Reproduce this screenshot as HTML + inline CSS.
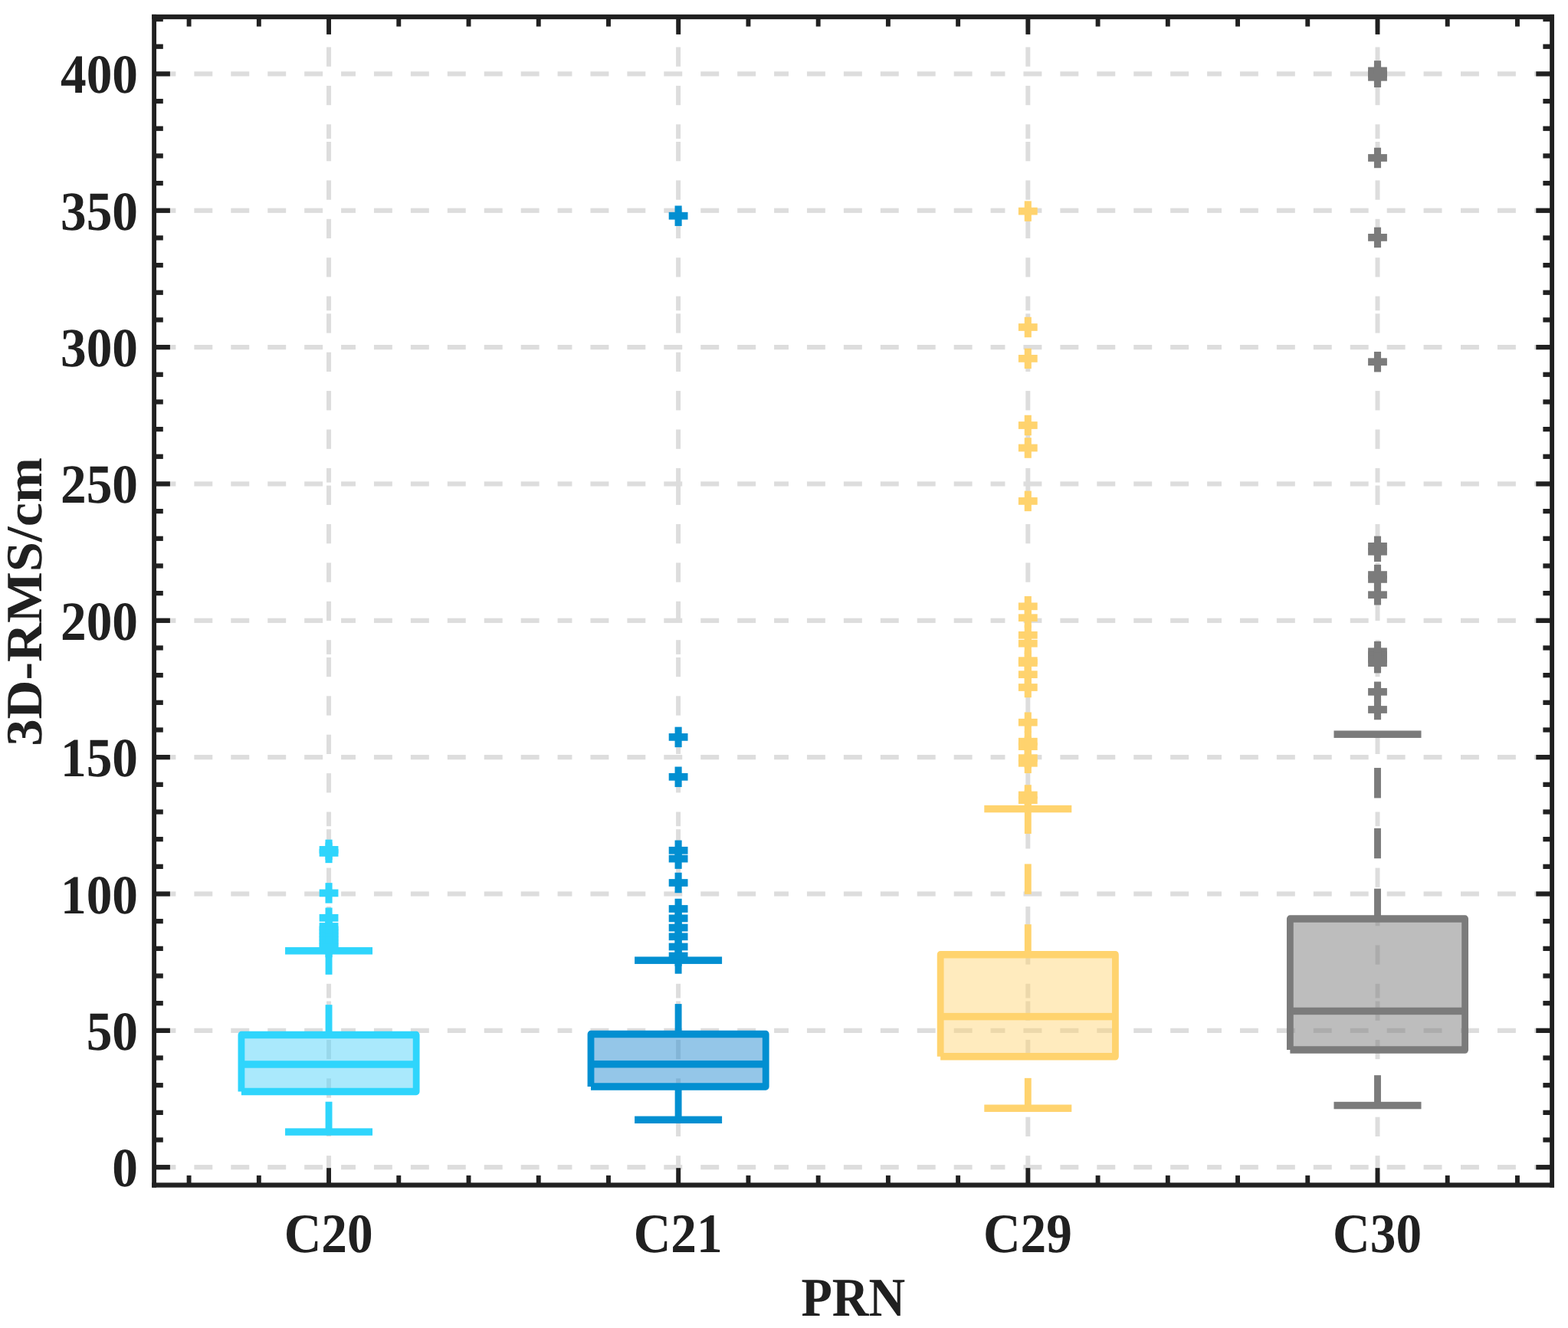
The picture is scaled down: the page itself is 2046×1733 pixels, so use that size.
<!DOCTYPE html>
<html lang="en">
<head>
<meta charset="utf-8">
<title>3D-RMS box plot by PRN</title>
<style>
html,body{margin:0;padding:0;background:#ffffff;}
body{width:2046px;height:1733px;overflow:hidden;}
svg{display:block;}
text{font-kerning:none;}
</style>
</head>
<body>
<svg width="2046" height="1733" viewBox="0 0 2046 1733" text-rendering="geometricPrecision">
<rect x="0" y="0" width="2046" height="1733" fill="#ffffff"/>
<g fill="#dddddd">
<rect x="205.45" y="1520.1" width="23.93" height="6.2" fill="#dddddd"/>
<rect x="253.38" y="1520.1" width="23.93" height="6.2" fill="#dddddd"/>
<rect x="301.31" y="1520.1" width="23.93" height="6.2" fill="#dddddd"/>
<rect x="349.24" y="1520.1" width="23.93" height="6.2" fill="#dddddd"/>
<rect x="397.17" y="1520.1" width="23.93" height="6.2" fill="#dddddd"/>
<rect x="445.1" y="1520.1" width="18.85" height="6.2" fill="#dddddd"/>
<rect x="487.95" y="1520.1" width="23.93" height="6.2" fill="#dddddd"/>
<rect x="535.88" y="1520.1" width="23.93" height="6.2" fill="#dddddd"/>
<rect x="583.81" y="1520.1" width="23.93" height="6.2" fill="#dddddd"/>
<rect x="631.74" y="1520.1" width="23.93" height="6.2" fill="#dddddd"/>
<rect x="679.67" y="1520.1" width="23.93" height="6.2" fill="#dddddd"/>
<rect x="727.6" y="1520.1" width="18.85" height="6.2" fill="#dddddd"/>
<rect x="770.45" y="1520.1" width="23.93" height="6.2" fill="#dddddd"/>
<rect x="818.38" y="1520.1" width="23.93" height="6.2" fill="#dddddd"/>
<rect x="866.31" y="1520.1" width="23.93" height="6.2" fill="#dddddd"/>
<rect x="914.24" y="1520.1" width="23.93" height="6.2" fill="#dddddd"/>
<rect x="962.17" y="1520.1" width="23.93" height="6.2" fill="#dddddd"/>
<rect x="1010.1" y="1520.1" width="18.85" height="6.2" fill="#dddddd"/>
<rect x="1052.95" y="1520.1" width="23.93" height="6.2" fill="#dddddd"/>
<rect x="1100.88" y="1520.1" width="23.93" height="6.2" fill="#dddddd"/>
<rect x="1148.81" y="1520.1" width="23.93" height="6.2" fill="#dddddd"/>
<rect x="1196.74" y="1520.1" width="23.93" height="6.2" fill="#dddddd"/>
<rect x="1244.67" y="1520.1" width="23.93" height="6.2" fill="#dddddd"/>
<rect x="1292.6" y="1520.1" width="18.85" height="6.2" fill="#dddddd"/>
<rect x="1335.45" y="1520.1" width="23.93" height="6.2" fill="#dddddd"/>
<rect x="1383.38" y="1520.1" width="23.93" height="6.2" fill="#dddddd"/>
<rect x="1431.31" y="1520.1" width="23.93" height="6.2" fill="#dddddd"/>
<rect x="1479.24" y="1520.1" width="23.93" height="6.2" fill="#dddddd"/>
<rect x="1527.17" y="1520.1" width="23.93" height="6.2" fill="#dddddd"/>
<rect x="1575.1" y="1520.1" width="18.85" height="6.2" fill="#dddddd"/>
<rect x="1617.95" y="1520.1" width="23.93" height="6.2" fill="#dddddd"/>
<rect x="1665.88" y="1520.1" width="23.93" height="6.2" fill="#dddddd"/>
<rect x="1713.81" y="1520.1" width="23.93" height="6.2" fill="#dddddd"/>
<rect x="1761.74" y="1520.1" width="23.93" height="6.2" fill="#dddddd"/>
<rect x="1809.67" y="1520.1" width="23.93" height="6.2" fill="#dddddd"/>
<rect x="1857.6" y="1520.1" width="23.93" height="6.2" fill="#dddddd"/>
<rect x="1906" y="1520.1" width="23.93" height="6.2" fill="#dddddd"/>
<rect x="1953.93" y="1520.1" width="23.93" height="6.2" fill="#dddddd"/>
<rect x="2001.86" y="1520.1" width="23.24" height="6.2" fill="#dddddd"/>
<rect x="205.45" y="1341.75" width="23.93" height="6.2" fill="#dddddd"/>
<rect x="253.38" y="1341.75" width="23.93" height="6.2" fill="#dddddd"/>
<rect x="301.31" y="1341.75" width="23.93" height="6.2" fill="#dddddd"/>
<rect x="349.24" y="1341.75" width="23.93" height="6.2" fill="#dddddd"/>
<rect x="397.17" y="1341.75" width="23.93" height="6.2" fill="#dddddd"/>
<rect x="445.1" y="1341.75" width="18.85" height="6.2" fill="#dddddd"/>
<rect x="487.95" y="1341.75" width="23.93" height="6.2" fill="#dddddd"/>
<rect x="535.88" y="1341.75" width="23.93" height="6.2" fill="#dddddd"/>
<rect x="583.81" y="1341.75" width="23.93" height="6.2" fill="#dddddd"/>
<rect x="631.74" y="1341.75" width="23.93" height="6.2" fill="#dddddd"/>
<rect x="679.67" y="1341.75" width="23.93" height="6.2" fill="#dddddd"/>
<rect x="727.6" y="1341.75" width="18.85" height="6.2" fill="#dddddd"/>
<rect x="770.45" y="1341.75" width="23.93" height="6.2" fill="#dddddd"/>
<rect x="818.38" y="1341.75" width="23.93" height="6.2" fill="#dddddd"/>
<rect x="866.31" y="1341.75" width="23.93" height="6.2" fill="#dddddd"/>
<rect x="914.24" y="1341.75" width="23.93" height="6.2" fill="#dddddd"/>
<rect x="962.17" y="1341.75" width="23.93" height="6.2" fill="#dddddd"/>
<rect x="1010.1" y="1341.75" width="18.85" height="6.2" fill="#dddddd"/>
<rect x="1052.95" y="1341.75" width="23.93" height="6.2" fill="#dddddd"/>
<rect x="1100.88" y="1341.75" width="23.93" height="6.2" fill="#dddddd"/>
<rect x="1148.81" y="1341.75" width="23.93" height="6.2" fill="#dddddd"/>
<rect x="1196.74" y="1341.75" width="23.93" height="6.2" fill="#dddddd"/>
<rect x="1244.67" y="1341.75" width="23.93" height="6.2" fill="#dddddd"/>
<rect x="1292.6" y="1341.75" width="18.85" height="6.2" fill="#dddddd"/>
<rect x="1335.45" y="1341.75" width="23.93" height="6.2" fill="#dddddd"/>
<rect x="1383.38" y="1341.75" width="23.93" height="6.2" fill="#dddddd"/>
<rect x="1431.31" y="1341.75" width="23.93" height="6.2" fill="#dddddd"/>
<rect x="1479.24" y="1341.75" width="23.93" height="6.2" fill="#dddddd"/>
<rect x="1527.17" y="1341.75" width="23.93" height="6.2" fill="#dddddd"/>
<rect x="1575.1" y="1341.75" width="18.85" height="6.2" fill="#dddddd"/>
<rect x="1617.95" y="1341.75" width="23.93" height="6.2" fill="#dddddd"/>
<rect x="1665.88" y="1341.75" width="23.93" height="6.2" fill="#dddddd"/>
<rect x="1713.81" y="1341.75" width="23.93" height="6.2" fill="#dddddd"/>
<rect x="1761.74" y="1341.75" width="23.93" height="6.2" fill="#dddddd"/>
<rect x="1809.67" y="1341.75" width="23.93" height="6.2" fill="#dddddd"/>
<rect x="1857.6" y="1341.75" width="23.93" height="6.2" fill="#dddddd"/>
<rect x="1906" y="1341.75" width="23.93" height="6.2" fill="#dddddd"/>
<rect x="1953.93" y="1341.75" width="23.93" height="6.2" fill="#dddddd"/>
<rect x="2001.86" y="1341.75" width="23.24" height="6.2" fill="#dddddd"/>
<rect x="205.45" y="1163.4" width="23.93" height="6.2" fill="#dddddd"/>
<rect x="253.38" y="1163.4" width="23.93" height="6.2" fill="#dddddd"/>
<rect x="301.31" y="1163.4" width="23.93" height="6.2" fill="#dddddd"/>
<rect x="349.24" y="1163.4" width="23.93" height="6.2" fill="#dddddd"/>
<rect x="397.17" y="1163.4" width="23.93" height="6.2" fill="#dddddd"/>
<rect x="445.1" y="1163.4" width="18.85" height="6.2" fill="#dddddd"/>
<rect x="487.95" y="1163.4" width="23.93" height="6.2" fill="#dddddd"/>
<rect x="535.88" y="1163.4" width="23.93" height="6.2" fill="#dddddd"/>
<rect x="583.81" y="1163.4" width="23.93" height="6.2" fill="#dddddd"/>
<rect x="631.74" y="1163.4" width="23.93" height="6.2" fill="#dddddd"/>
<rect x="679.67" y="1163.4" width="23.93" height="6.2" fill="#dddddd"/>
<rect x="727.6" y="1163.4" width="18.85" height="6.2" fill="#dddddd"/>
<rect x="770.45" y="1163.4" width="23.93" height="6.2" fill="#dddddd"/>
<rect x="818.38" y="1163.4" width="23.93" height="6.2" fill="#dddddd"/>
<rect x="866.31" y="1163.4" width="23.93" height="6.2" fill="#dddddd"/>
<rect x="914.24" y="1163.4" width="23.93" height="6.2" fill="#dddddd"/>
<rect x="962.17" y="1163.4" width="23.93" height="6.2" fill="#dddddd"/>
<rect x="1010.1" y="1163.4" width="18.85" height="6.2" fill="#dddddd"/>
<rect x="1052.95" y="1163.4" width="23.93" height="6.2" fill="#dddddd"/>
<rect x="1100.88" y="1163.4" width="23.93" height="6.2" fill="#dddddd"/>
<rect x="1148.81" y="1163.4" width="23.93" height="6.2" fill="#dddddd"/>
<rect x="1196.74" y="1163.4" width="23.93" height="6.2" fill="#dddddd"/>
<rect x="1244.67" y="1163.4" width="23.93" height="6.2" fill="#dddddd"/>
<rect x="1292.6" y="1163.4" width="18.85" height="6.2" fill="#dddddd"/>
<rect x="1335.45" y="1163.4" width="23.93" height="6.2" fill="#dddddd"/>
<rect x="1383.38" y="1163.4" width="23.93" height="6.2" fill="#dddddd"/>
<rect x="1431.31" y="1163.4" width="23.93" height="6.2" fill="#dddddd"/>
<rect x="1479.24" y="1163.4" width="23.93" height="6.2" fill="#dddddd"/>
<rect x="1527.17" y="1163.4" width="23.93" height="6.2" fill="#dddddd"/>
<rect x="1575.1" y="1163.4" width="18.85" height="6.2" fill="#dddddd"/>
<rect x="1617.95" y="1163.4" width="23.93" height="6.2" fill="#dddddd"/>
<rect x="1665.88" y="1163.4" width="23.93" height="6.2" fill="#dddddd"/>
<rect x="1713.81" y="1163.4" width="23.93" height="6.2" fill="#dddddd"/>
<rect x="1761.74" y="1163.4" width="23.93" height="6.2" fill="#dddddd"/>
<rect x="1809.67" y="1163.4" width="23.93" height="6.2" fill="#dddddd"/>
<rect x="1857.6" y="1163.4" width="23.93" height="6.2" fill="#dddddd"/>
<rect x="1906" y="1163.4" width="23.93" height="6.2" fill="#dddddd"/>
<rect x="1953.93" y="1163.4" width="23.93" height="6.2" fill="#dddddd"/>
<rect x="2001.86" y="1163.4" width="23.24" height="6.2" fill="#dddddd"/>
<rect x="205.45" y="985.05" width="23.93" height="6.2" fill="#dddddd"/>
<rect x="253.38" y="985.05" width="23.93" height="6.2" fill="#dddddd"/>
<rect x="301.31" y="985.05" width="23.93" height="6.2" fill="#dddddd"/>
<rect x="349.24" y="985.05" width="23.93" height="6.2" fill="#dddddd"/>
<rect x="397.17" y="985.05" width="23.93" height="6.2" fill="#dddddd"/>
<rect x="445.1" y="985.05" width="18.85" height="6.2" fill="#dddddd"/>
<rect x="487.95" y="985.05" width="23.93" height="6.2" fill="#dddddd"/>
<rect x="535.88" y="985.05" width="23.93" height="6.2" fill="#dddddd"/>
<rect x="583.81" y="985.05" width="23.93" height="6.2" fill="#dddddd"/>
<rect x="631.74" y="985.05" width="23.93" height="6.2" fill="#dddddd"/>
<rect x="679.67" y="985.05" width="23.93" height="6.2" fill="#dddddd"/>
<rect x="727.6" y="985.05" width="18.85" height="6.2" fill="#dddddd"/>
<rect x="770.45" y="985.05" width="23.93" height="6.2" fill="#dddddd"/>
<rect x="818.38" y="985.05" width="23.93" height="6.2" fill="#dddddd"/>
<rect x="866.31" y="985.05" width="23.93" height="6.2" fill="#dddddd"/>
<rect x="914.24" y="985.05" width="23.93" height="6.2" fill="#dddddd"/>
<rect x="962.17" y="985.05" width="23.93" height="6.2" fill="#dddddd"/>
<rect x="1010.1" y="985.05" width="18.85" height="6.2" fill="#dddddd"/>
<rect x="1052.95" y="985.05" width="23.93" height="6.2" fill="#dddddd"/>
<rect x="1100.88" y="985.05" width="23.93" height="6.2" fill="#dddddd"/>
<rect x="1148.81" y="985.05" width="23.93" height="6.2" fill="#dddddd"/>
<rect x="1196.74" y="985.05" width="23.93" height="6.2" fill="#dddddd"/>
<rect x="1244.67" y="985.05" width="23.93" height="6.2" fill="#dddddd"/>
<rect x="1292.6" y="985.05" width="18.85" height="6.2" fill="#dddddd"/>
<rect x="1335.45" y="985.05" width="23.93" height="6.2" fill="#dddddd"/>
<rect x="1383.38" y="985.05" width="23.93" height="6.2" fill="#dddddd"/>
<rect x="1431.31" y="985.05" width="23.93" height="6.2" fill="#dddddd"/>
<rect x="1479.24" y="985.05" width="23.93" height="6.2" fill="#dddddd"/>
<rect x="1527.17" y="985.05" width="23.93" height="6.2" fill="#dddddd"/>
<rect x="1575.1" y="985.05" width="18.85" height="6.2" fill="#dddddd"/>
<rect x="1617.95" y="985.05" width="23.93" height="6.2" fill="#dddddd"/>
<rect x="1665.88" y="985.05" width="23.93" height="6.2" fill="#dddddd"/>
<rect x="1713.81" y="985.05" width="23.93" height="6.2" fill="#dddddd"/>
<rect x="1761.74" y="985.05" width="23.93" height="6.2" fill="#dddddd"/>
<rect x="1809.67" y="985.05" width="23.93" height="6.2" fill="#dddddd"/>
<rect x="1857.6" y="985.05" width="23.93" height="6.2" fill="#dddddd"/>
<rect x="1906" y="985.05" width="23.93" height="6.2" fill="#dddddd"/>
<rect x="1953.93" y="985.05" width="23.93" height="6.2" fill="#dddddd"/>
<rect x="2001.86" y="985.05" width="23.24" height="6.2" fill="#dddddd"/>
<rect x="205.45" y="806.7" width="23.93" height="6.2" fill="#dddddd"/>
<rect x="253.38" y="806.7" width="23.93" height="6.2" fill="#dddddd"/>
<rect x="301.31" y="806.7" width="23.93" height="6.2" fill="#dddddd"/>
<rect x="349.24" y="806.7" width="23.93" height="6.2" fill="#dddddd"/>
<rect x="397.17" y="806.7" width="23.93" height="6.2" fill="#dddddd"/>
<rect x="445.1" y="806.7" width="18.85" height="6.2" fill="#dddddd"/>
<rect x="487.95" y="806.7" width="23.93" height="6.2" fill="#dddddd"/>
<rect x="535.88" y="806.7" width="23.93" height="6.2" fill="#dddddd"/>
<rect x="583.81" y="806.7" width="23.93" height="6.2" fill="#dddddd"/>
<rect x="631.74" y="806.7" width="23.93" height="6.2" fill="#dddddd"/>
<rect x="679.67" y="806.7" width="23.93" height="6.2" fill="#dddddd"/>
<rect x="727.6" y="806.7" width="18.85" height="6.2" fill="#dddddd"/>
<rect x="770.45" y="806.7" width="23.93" height="6.2" fill="#dddddd"/>
<rect x="818.38" y="806.7" width="23.93" height="6.2" fill="#dddddd"/>
<rect x="866.31" y="806.7" width="23.93" height="6.2" fill="#dddddd"/>
<rect x="914.24" y="806.7" width="23.93" height="6.2" fill="#dddddd"/>
<rect x="962.17" y="806.7" width="23.93" height="6.2" fill="#dddddd"/>
<rect x="1010.1" y="806.7" width="18.85" height="6.2" fill="#dddddd"/>
<rect x="1052.95" y="806.7" width="23.93" height="6.2" fill="#dddddd"/>
<rect x="1100.88" y="806.7" width="23.93" height="6.2" fill="#dddddd"/>
<rect x="1148.81" y="806.7" width="23.93" height="6.2" fill="#dddddd"/>
<rect x="1196.74" y="806.7" width="23.93" height="6.2" fill="#dddddd"/>
<rect x="1244.67" y="806.7" width="23.93" height="6.2" fill="#dddddd"/>
<rect x="1292.6" y="806.7" width="18.85" height="6.2" fill="#dddddd"/>
<rect x="1335.45" y="806.7" width="23.93" height="6.2" fill="#dddddd"/>
<rect x="1383.38" y="806.7" width="23.93" height="6.2" fill="#dddddd"/>
<rect x="1431.31" y="806.7" width="23.93" height="6.2" fill="#dddddd"/>
<rect x="1479.24" y="806.7" width="23.93" height="6.2" fill="#dddddd"/>
<rect x="1527.17" y="806.7" width="23.93" height="6.2" fill="#dddddd"/>
<rect x="1575.1" y="806.7" width="18.85" height="6.2" fill="#dddddd"/>
<rect x="1617.95" y="806.7" width="23.93" height="6.2" fill="#dddddd"/>
<rect x="1665.88" y="806.7" width="23.93" height="6.2" fill="#dddddd"/>
<rect x="1713.81" y="806.7" width="23.93" height="6.2" fill="#dddddd"/>
<rect x="1761.74" y="806.7" width="23.93" height="6.2" fill="#dddddd"/>
<rect x="1809.67" y="806.7" width="23.93" height="6.2" fill="#dddddd"/>
<rect x="1857.6" y="806.7" width="23.93" height="6.2" fill="#dddddd"/>
<rect x="1906" y="806.7" width="23.93" height="6.2" fill="#dddddd"/>
<rect x="1953.93" y="806.7" width="23.93" height="6.2" fill="#dddddd"/>
<rect x="2001.86" y="806.7" width="23.24" height="6.2" fill="#dddddd"/>
<rect x="205.45" y="628.35" width="23.93" height="6.2" fill="#dddddd"/>
<rect x="253.38" y="628.35" width="23.93" height="6.2" fill="#dddddd"/>
<rect x="301.31" y="628.35" width="23.93" height="6.2" fill="#dddddd"/>
<rect x="349.24" y="628.35" width="23.93" height="6.2" fill="#dddddd"/>
<rect x="397.17" y="628.35" width="23.93" height="6.2" fill="#dddddd"/>
<rect x="445.1" y="628.35" width="18.85" height="6.2" fill="#dddddd"/>
<rect x="487.95" y="628.35" width="23.93" height="6.2" fill="#dddddd"/>
<rect x="535.88" y="628.35" width="23.93" height="6.2" fill="#dddddd"/>
<rect x="583.81" y="628.35" width="23.93" height="6.2" fill="#dddddd"/>
<rect x="631.74" y="628.35" width="23.93" height="6.2" fill="#dddddd"/>
<rect x="679.67" y="628.35" width="23.93" height="6.2" fill="#dddddd"/>
<rect x="727.6" y="628.35" width="18.85" height="6.2" fill="#dddddd"/>
<rect x="770.45" y="628.35" width="23.93" height="6.2" fill="#dddddd"/>
<rect x="818.38" y="628.35" width="23.93" height="6.2" fill="#dddddd"/>
<rect x="866.31" y="628.35" width="23.93" height="6.2" fill="#dddddd"/>
<rect x="914.24" y="628.35" width="23.93" height="6.2" fill="#dddddd"/>
<rect x="962.17" y="628.35" width="23.93" height="6.2" fill="#dddddd"/>
<rect x="1010.1" y="628.35" width="18.85" height="6.2" fill="#dddddd"/>
<rect x="1052.95" y="628.35" width="23.93" height="6.2" fill="#dddddd"/>
<rect x="1100.88" y="628.35" width="23.93" height="6.2" fill="#dddddd"/>
<rect x="1148.81" y="628.35" width="23.93" height="6.2" fill="#dddddd"/>
<rect x="1196.74" y="628.35" width="23.93" height="6.2" fill="#dddddd"/>
<rect x="1244.67" y="628.35" width="23.93" height="6.2" fill="#dddddd"/>
<rect x="1292.6" y="628.35" width="18.85" height="6.2" fill="#dddddd"/>
<rect x="1335.45" y="628.35" width="23.93" height="6.2" fill="#dddddd"/>
<rect x="1383.38" y="628.35" width="23.93" height="6.2" fill="#dddddd"/>
<rect x="1431.31" y="628.35" width="23.93" height="6.2" fill="#dddddd"/>
<rect x="1479.24" y="628.35" width="23.93" height="6.2" fill="#dddddd"/>
<rect x="1527.17" y="628.35" width="23.93" height="6.2" fill="#dddddd"/>
<rect x="1575.1" y="628.35" width="18.85" height="6.2" fill="#dddddd"/>
<rect x="1617.95" y="628.35" width="23.93" height="6.2" fill="#dddddd"/>
<rect x="1665.88" y="628.35" width="23.93" height="6.2" fill="#dddddd"/>
<rect x="1713.81" y="628.35" width="23.93" height="6.2" fill="#dddddd"/>
<rect x="1761.74" y="628.35" width="23.93" height="6.2" fill="#dddddd"/>
<rect x="1809.67" y="628.35" width="23.93" height="6.2" fill="#dddddd"/>
<rect x="1857.6" y="628.35" width="23.93" height="6.2" fill="#dddddd"/>
<rect x="1906" y="628.35" width="23.93" height="6.2" fill="#dddddd"/>
<rect x="1953.93" y="628.35" width="23.93" height="6.2" fill="#dddddd"/>
<rect x="2001.86" y="628.35" width="23.24" height="6.2" fill="#dddddd"/>
<rect x="205.45" y="450" width="23.93" height="6.2" fill="#dddddd"/>
<rect x="253.38" y="450" width="23.93" height="6.2" fill="#dddddd"/>
<rect x="301.31" y="450" width="23.93" height="6.2" fill="#dddddd"/>
<rect x="349.24" y="450" width="23.93" height="6.2" fill="#dddddd"/>
<rect x="397.17" y="450" width="23.93" height="6.2" fill="#dddddd"/>
<rect x="445.1" y="450" width="18.85" height="6.2" fill="#dddddd"/>
<rect x="487.95" y="450" width="23.93" height="6.2" fill="#dddddd"/>
<rect x="535.88" y="450" width="23.93" height="6.2" fill="#dddddd"/>
<rect x="583.81" y="450" width="23.93" height="6.2" fill="#dddddd"/>
<rect x="631.74" y="450" width="23.93" height="6.2" fill="#dddddd"/>
<rect x="679.67" y="450" width="23.93" height="6.2" fill="#dddddd"/>
<rect x="727.6" y="450" width="18.85" height="6.2" fill="#dddddd"/>
<rect x="770.45" y="450" width="23.93" height="6.2" fill="#dddddd"/>
<rect x="818.38" y="450" width="23.93" height="6.2" fill="#dddddd"/>
<rect x="866.31" y="450" width="23.93" height="6.2" fill="#dddddd"/>
<rect x="914.24" y="450" width="23.93" height="6.2" fill="#dddddd"/>
<rect x="962.17" y="450" width="23.93" height="6.2" fill="#dddddd"/>
<rect x="1010.1" y="450" width="18.85" height="6.2" fill="#dddddd"/>
<rect x="1052.95" y="450" width="23.93" height="6.2" fill="#dddddd"/>
<rect x="1100.88" y="450" width="23.93" height="6.2" fill="#dddddd"/>
<rect x="1148.81" y="450" width="23.93" height="6.2" fill="#dddddd"/>
<rect x="1196.74" y="450" width="23.93" height="6.2" fill="#dddddd"/>
<rect x="1244.67" y="450" width="23.93" height="6.2" fill="#dddddd"/>
<rect x="1292.6" y="450" width="18.85" height="6.2" fill="#dddddd"/>
<rect x="1335.45" y="450" width="23.93" height="6.2" fill="#dddddd"/>
<rect x="1383.38" y="450" width="23.93" height="6.2" fill="#dddddd"/>
<rect x="1431.31" y="450" width="23.93" height="6.2" fill="#dddddd"/>
<rect x="1479.24" y="450" width="23.93" height="6.2" fill="#dddddd"/>
<rect x="1527.17" y="450" width="23.93" height="6.2" fill="#dddddd"/>
<rect x="1575.1" y="450" width="18.85" height="6.2" fill="#dddddd"/>
<rect x="1617.95" y="450" width="23.93" height="6.2" fill="#dddddd"/>
<rect x="1665.88" y="450" width="23.93" height="6.2" fill="#dddddd"/>
<rect x="1713.81" y="450" width="23.93" height="6.2" fill="#dddddd"/>
<rect x="1761.74" y="450" width="23.93" height="6.2" fill="#dddddd"/>
<rect x="1809.67" y="450" width="23.93" height="6.2" fill="#dddddd"/>
<rect x="1857.6" y="450" width="23.93" height="6.2" fill="#dddddd"/>
<rect x="1906" y="450" width="23.93" height="6.2" fill="#dddddd"/>
<rect x="1953.93" y="450" width="23.93" height="6.2" fill="#dddddd"/>
<rect x="2001.86" y="450" width="23.24" height="6.2" fill="#dddddd"/>
<rect x="205.45" y="271.65" width="23.93" height="6.2" fill="#dddddd"/>
<rect x="253.38" y="271.65" width="23.93" height="6.2" fill="#dddddd"/>
<rect x="301.31" y="271.65" width="23.93" height="6.2" fill="#dddddd"/>
<rect x="349.24" y="271.65" width="23.93" height="6.2" fill="#dddddd"/>
<rect x="397.17" y="271.65" width="23.93" height="6.2" fill="#dddddd"/>
<rect x="445.1" y="271.65" width="18.85" height="6.2" fill="#dddddd"/>
<rect x="487.95" y="271.65" width="23.93" height="6.2" fill="#dddddd"/>
<rect x="535.88" y="271.65" width="23.93" height="6.2" fill="#dddddd"/>
<rect x="583.81" y="271.65" width="23.93" height="6.2" fill="#dddddd"/>
<rect x="631.74" y="271.65" width="23.93" height="6.2" fill="#dddddd"/>
<rect x="679.67" y="271.65" width="23.93" height="6.2" fill="#dddddd"/>
<rect x="727.6" y="271.65" width="18.85" height="6.2" fill="#dddddd"/>
<rect x="770.45" y="271.65" width="23.93" height="6.2" fill="#dddddd"/>
<rect x="818.38" y="271.65" width="23.93" height="6.2" fill="#dddddd"/>
<rect x="866.31" y="271.65" width="23.93" height="6.2" fill="#dddddd"/>
<rect x="914.24" y="271.65" width="23.93" height="6.2" fill="#dddddd"/>
<rect x="962.17" y="271.65" width="23.93" height="6.2" fill="#dddddd"/>
<rect x="1010.1" y="271.65" width="18.85" height="6.2" fill="#dddddd"/>
<rect x="1052.95" y="271.65" width="23.93" height="6.2" fill="#dddddd"/>
<rect x="1100.88" y="271.65" width="23.93" height="6.2" fill="#dddddd"/>
<rect x="1148.81" y="271.65" width="23.93" height="6.2" fill="#dddddd"/>
<rect x="1196.74" y="271.65" width="23.93" height="6.2" fill="#dddddd"/>
<rect x="1244.67" y="271.65" width="23.93" height="6.2" fill="#dddddd"/>
<rect x="1292.6" y="271.65" width="18.85" height="6.2" fill="#dddddd"/>
<rect x="1335.45" y="271.65" width="23.93" height="6.2" fill="#dddddd"/>
<rect x="1383.38" y="271.65" width="23.93" height="6.2" fill="#dddddd"/>
<rect x="1431.31" y="271.65" width="23.93" height="6.2" fill="#dddddd"/>
<rect x="1479.24" y="271.65" width="23.93" height="6.2" fill="#dddddd"/>
<rect x="1527.17" y="271.65" width="23.93" height="6.2" fill="#dddddd"/>
<rect x="1575.1" y="271.65" width="18.85" height="6.2" fill="#dddddd"/>
<rect x="1617.95" y="271.65" width="23.93" height="6.2" fill="#dddddd"/>
<rect x="1665.88" y="271.65" width="23.93" height="6.2" fill="#dddddd"/>
<rect x="1713.81" y="271.65" width="23.93" height="6.2" fill="#dddddd"/>
<rect x="1761.74" y="271.65" width="23.93" height="6.2" fill="#dddddd"/>
<rect x="1809.67" y="271.65" width="23.93" height="6.2" fill="#dddddd"/>
<rect x="1857.6" y="271.65" width="23.93" height="6.2" fill="#dddddd"/>
<rect x="1906" y="271.65" width="23.93" height="6.2" fill="#dddddd"/>
<rect x="1953.93" y="271.65" width="23.93" height="6.2" fill="#dddddd"/>
<rect x="2001.86" y="271.65" width="23.24" height="6.2" fill="#dddddd"/>
<rect x="205.45" y="93.3" width="23.93" height="6.2" fill="#dddddd"/>
<rect x="253.38" y="93.3" width="23.93" height="6.2" fill="#dddddd"/>
<rect x="301.31" y="93.3" width="23.93" height="6.2" fill="#dddddd"/>
<rect x="349.24" y="93.3" width="23.93" height="6.2" fill="#dddddd"/>
<rect x="397.17" y="93.3" width="23.93" height="6.2" fill="#dddddd"/>
<rect x="445.1" y="93.3" width="18.85" height="6.2" fill="#dddddd"/>
<rect x="487.95" y="93.3" width="23.93" height="6.2" fill="#dddddd"/>
<rect x="535.88" y="93.3" width="23.93" height="6.2" fill="#dddddd"/>
<rect x="583.81" y="93.3" width="23.93" height="6.2" fill="#dddddd"/>
<rect x="631.74" y="93.3" width="23.93" height="6.2" fill="#dddddd"/>
<rect x="679.67" y="93.3" width="23.93" height="6.2" fill="#dddddd"/>
<rect x="727.6" y="93.3" width="18.85" height="6.2" fill="#dddddd"/>
<rect x="770.45" y="93.3" width="23.93" height="6.2" fill="#dddddd"/>
<rect x="818.38" y="93.3" width="23.93" height="6.2" fill="#dddddd"/>
<rect x="866.31" y="93.3" width="23.93" height="6.2" fill="#dddddd"/>
<rect x="914.24" y="93.3" width="23.93" height="6.2" fill="#dddddd"/>
<rect x="962.17" y="93.3" width="23.93" height="6.2" fill="#dddddd"/>
<rect x="1010.1" y="93.3" width="18.85" height="6.2" fill="#dddddd"/>
<rect x="1052.95" y="93.3" width="23.93" height="6.2" fill="#dddddd"/>
<rect x="1100.88" y="93.3" width="23.93" height="6.2" fill="#dddddd"/>
<rect x="1148.81" y="93.3" width="23.93" height="6.2" fill="#dddddd"/>
<rect x="1196.74" y="93.3" width="23.93" height="6.2" fill="#dddddd"/>
<rect x="1244.67" y="93.3" width="23.93" height="6.2" fill="#dddddd"/>
<rect x="1292.6" y="93.3" width="18.85" height="6.2" fill="#dddddd"/>
<rect x="1335.45" y="93.3" width="23.93" height="6.2" fill="#dddddd"/>
<rect x="1383.38" y="93.3" width="23.93" height="6.2" fill="#dddddd"/>
<rect x="1431.31" y="93.3" width="23.93" height="6.2" fill="#dddddd"/>
<rect x="1479.24" y="93.3" width="23.93" height="6.2" fill="#dddddd"/>
<rect x="1527.17" y="93.3" width="23.93" height="6.2" fill="#dddddd"/>
<rect x="1575.1" y="93.3" width="18.85" height="6.2" fill="#dddddd"/>
<rect x="1617.95" y="93.3" width="23.93" height="6.2" fill="#dddddd"/>
<rect x="1665.88" y="93.3" width="23.93" height="6.2" fill="#dddddd"/>
<rect x="1713.81" y="93.3" width="23.93" height="6.2" fill="#dddddd"/>
<rect x="1761.74" y="93.3" width="23.93" height="6.2" fill="#dddddd"/>
<rect x="1809.67" y="93.3" width="23.93" height="6.2" fill="#dddddd"/>
<rect x="1857.6" y="93.3" width="23.93" height="6.2" fill="#dddddd"/>
<rect x="1906" y="93.3" width="23.93" height="6.2" fill="#dddddd"/>
<rect x="1953.93" y="93.3" width="23.93" height="6.2" fill="#dddddd"/>
<rect x="2001.86" y="93.3" width="23.24" height="6.2" fill="#dddddd"/>
<rect x="426.05" y="22" width="6" height="14.4" fill="#dddddd"/>
<rect x="426.05" y="61.5" width="6" height="25.3" fill="#dddddd"/>
<rect x="426.05" y="111.9" width="6" height="25.3" fill="#dddddd"/>
<rect x="426.05" y="162.3" width="6" height="18.7" fill="#dddddd"/>
<rect x="426.05" y="185" width="6" height="25.3" fill="#dddddd"/>
<rect x="426.05" y="235.4" width="6" height="25.3" fill="#dddddd"/>
<rect x="426.05" y="285.8" width="6" height="25.3" fill="#dddddd"/>
<rect x="426.05" y="336.2" width="6" height="25.3" fill="#dddddd"/>
<rect x="426.05" y="386.6" width="6" height="18.7" fill="#dddddd"/>
<rect x="426.05" y="409.3" width="6" height="25.3" fill="#dddddd"/>
<rect x="426.05" y="459.7" width="6" height="25.3" fill="#dddddd"/>
<rect x="426.05" y="510.1" width="6" height="25.3" fill="#dddddd"/>
<rect x="426.05" y="560.5" width="6" height="25.3" fill="#dddddd"/>
<rect x="426.05" y="610.9" width="6" height="18.7" fill="#dddddd"/>
<rect x="426.05" y="633.6" width="6" height="25.3" fill="#dddddd"/>
<rect x="426.05" y="684" width="6" height="25.3" fill="#dddddd"/>
<rect x="426.05" y="734.4" width="6" height="25.3" fill="#dddddd"/>
<rect x="426.05" y="784.8" width="6" height="25.3" fill="#dddddd"/>
<rect x="426.05" y="835.2" width="6" height="18.7" fill="#dddddd"/>
<rect x="426.05" y="857.9" width="6" height="25.3" fill="#dddddd"/>
<rect x="426.05" y="908.3" width="6" height="25.3" fill="#dddddd"/>
<rect x="426.05" y="958.7" width="6" height="25.3" fill="#dddddd"/>
<rect x="426.05" y="1009.1" width="6" height="25.3" fill="#dddddd"/>
<rect x="426.05" y="1059.5" width="6" height="18.7" fill="#dddddd"/>
<rect x="426.05" y="1082.2" width="6" height="25.3" fill="#dddddd"/>
<rect x="426.05" y="1132.6" width="6" height="25.3" fill="#dddddd"/>
<rect x="426.05" y="1183" width="6" height="25.3" fill="#dddddd"/>
<rect x="426.05" y="1233.4" width="6" height="25.3" fill="#dddddd"/>
<rect x="426.05" y="1283.8" width="6" height="18.7" fill="#dddddd"/>
<rect x="426.05" y="1306.5" width="6" height="25.3" fill="#dddddd"/>
<rect x="426.05" y="1356.9" width="6" height="25.3" fill="#dddddd"/>
<rect x="426.05" y="1407.3" width="6" height="25.3" fill="#dddddd"/>
<rect x="426.05" y="1457.7" width="6" height="25.3" fill="#dddddd"/>
<rect x="426.05" y="1508.1" width="6" height="18.7" fill="#dddddd"/>
<rect x="426.05" y="1530.8" width="6" height="15.7" fill="#dddddd"/>
<rect x="882.1" y="22" width="6" height="14.4" fill="#dddddd"/>
<rect x="882.1" y="61.5" width="6" height="25.3" fill="#dddddd"/>
<rect x="882.1" y="111.9" width="6" height="25.3" fill="#dddddd"/>
<rect x="882.1" y="162.3" width="6" height="18.7" fill="#dddddd"/>
<rect x="882.1" y="185" width="6" height="25.3" fill="#dddddd"/>
<rect x="882.1" y="235.4" width="6" height="25.3" fill="#dddddd"/>
<rect x="882.1" y="285.8" width="6" height="25.3" fill="#dddddd"/>
<rect x="882.1" y="336.2" width="6" height="25.3" fill="#dddddd"/>
<rect x="882.1" y="386.6" width="6" height="18.7" fill="#dddddd"/>
<rect x="882.1" y="409.3" width="6" height="25.3" fill="#dddddd"/>
<rect x="882.1" y="459.7" width="6" height="25.3" fill="#dddddd"/>
<rect x="882.1" y="510.1" width="6" height="25.3" fill="#dddddd"/>
<rect x="882.1" y="560.5" width="6" height="25.3" fill="#dddddd"/>
<rect x="882.1" y="610.9" width="6" height="18.7" fill="#dddddd"/>
<rect x="882.1" y="633.6" width="6" height="25.3" fill="#dddddd"/>
<rect x="882.1" y="684" width="6" height="25.3" fill="#dddddd"/>
<rect x="882.1" y="734.4" width="6" height="25.3" fill="#dddddd"/>
<rect x="882.1" y="784.8" width="6" height="25.3" fill="#dddddd"/>
<rect x="882.1" y="835.2" width="6" height="18.7" fill="#dddddd"/>
<rect x="882.1" y="857.9" width="6" height="25.3" fill="#dddddd"/>
<rect x="882.1" y="908.3" width="6" height="25.3" fill="#dddddd"/>
<rect x="882.1" y="958.7" width="6" height="25.3" fill="#dddddd"/>
<rect x="882.1" y="1009.1" width="6" height="25.3" fill="#dddddd"/>
<rect x="882.1" y="1059.5" width="6" height="18.7" fill="#dddddd"/>
<rect x="882.1" y="1082.2" width="6" height="25.3" fill="#dddddd"/>
<rect x="882.1" y="1132.6" width="6" height="25.3" fill="#dddddd"/>
<rect x="882.1" y="1183" width="6" height="25.3" fill="#dddddd"/>
<rect x="882.1" y="1233.4" width="6" height="25.3" fill="#dddddd"/>
<rect x="882.1" y="1283.8" width="6" height="18.7" fill="#dddddd"/>
<rect x="882.1" y="1306.5" width="6" height="25.3" fill="#dddddd"/>
<rect x="882.1" y="1356.9" width="6" height="25.3" fill="#dddddd"/>
<rect x="882.1" y="1407.3" width="6" height="25.3" fill="#dddddd"/>
<rect x="882.1" y="1457.7" width="6" height="25.3" fill="#dddddd"/>
<rect x="882.1" y="1508.1" width="6" height="18.7" fill="#dddddd"/>
<rect x="882.1" y="1530.8" width="6" height="15.7" fill="#dddddd"/>
<rect x="1338.3" y="22" width="6" height="14.4" fill="#dddddd"/>
<rect x="1338.3" y="61.5" width="6" height="25.3" fill="#dddddd"/>
<rect x="1338.3" y="111.9" width="6" height="25.3" fill="#dddddd"/>
<rect x="1338.3" y="162.3" width="6" height="18.7" fill="#dddddd"/>
<rect x="1338.3" y="185" width="6" height="25.3" fill="#dddddd"/>
<rect x="1338.3" y="235.4" width="6" height="25.3" fill="#dddddd"/>
<rect x="1338.3" y="285.8" width="6" height="25.3" fill="#dddddd"/>
<rect x="1338.3" y="336.2" width="6" height="25.3" fill="#dddddd"/>
<rect x="1338.3" y="386.6" width="6" height="18.7" fill="#dddddd"/>
<rect x="1338.3" y="409.3" width="6" height="25.3" fill="#dddddd"/>
<rect x="1338.3" y="459.7" width="6" height="25.3" fill="#dddddd"/>
<rect x="1338.3" y="510.1" width="6" height="25.3" fill="#dddddd"/>
<rect x="1338.3" y="560.5" width="6" height="25.3" fill="#dddddd"/>
<rect x="1338.3" y="610.9" width="6" height="18.7" fill="#dddddd"/>
<rect x="1338.3" y="633.6" width="6" height="25.3" fill="#dddddd"/>
<rect x="1338.3" y="684" width="6" height="25.3" fill="#dddddd"/>
<rect x="1338.3" y="734.4" width="6" height="25.3" fill="#dddddd"/>
<rect x="1338.3" y="784.8" width="6" height="25.3" fill="#dddddd"/>
<rect x="1338.3" y="835.2" width="6" height="18.7" fill="#dddddd"/>
<rect x="1338.3" y="857.9" width="6" height="25.3" fill="#dddddd"/>
<rect x="1338.3" y="908.3" width="6" height="25.3" fill="#dddddd"/>
<rect x="1338.3" y="958.7" width="6" height="25.3" fill="#dddddd"/>
<rect x="1338.3" y="1009.1" width="6" height="25.3" fill="#dddddd"/>
<rect x="1338.3" y="1059.5" width="6" height="18.7" fill="#dddddd"/>
<rect x="1338.3" y="1082.2" width="6" height="25.3" fill="#dddddd"/>
<rect x="1338.3" y="1132.6" width="6" height="25.3" fill="#dddddd"/>
<rect x="1338.3" y="1183" width="6" height="25.3" fill="#dddddd"/>
<rect x="1338.3" y="1233.4" width="6" height="25.3" fill="#dddddd"/>
<rect x="1338.3" y="1283.8" width="6" height="18.7" fill="#dddddd"/>
<rect x="1338.3" y="1306.5" width="6" height="25.3" fill="#dddddd"/>
<rect x="1338.3" y="1356.9" width="6" height="25.3" fill="#dddddd"/>
<rect x="1338.3" y="1407.3" width="6" height="25.3" fill="#dddddd"/>
<rect x="1338.3" y="1457.7" width="6" height="25.3" fill="#dddddd"/>
<rect x="1338.3" y="1508.1" width="6" height="18.7" fill="#dddddd"/>
<rect x="1338.3" y="1530.8" width="6" height="15.7" fill="#dddddd"/>
<rect x="1794.5" y="22" width="6" height="14.4" fill="#dddddd"/>
<rect x="1794.5" y="61.5" width="6" height="25.3" fill="#dddddd"/>
<rect x="1794.5" y="111.9" width="6" height="25.3" fill="#dddddd"/>
<rect x="1794.5" y="162.3" width="6" height="18.7" fill="#dddddd"/>
<rect x="1794.5" y="185" width="6" height="25.3" fill="#dddddd"/>
<rect x="1794.5" y="235.4" width="6" height="25.3" fill="#dddddd"/>
<rect x="1794.5" y="285.8" width="6" height="25.3" fill="#dddddd"/>
<rect x="1794.5" y="336.2" width="6" height="25.3" fill="#dddddd"/>
<rect x="1794.5" y="386.6" width="6" height="18.7" fill="#dddddd"/>
<rect x="1794.5" y="409.3" width="6" height="25.3" fill="#dddddd"/>
<rect x="1794.5" y="459.7" width="6" height="25.3" fill="#dddddd"/>
<rect x="1794.5" y="510.1" width="6" height="25.3" fill="#dddddd"/>
<rect x="1794.5" y="560.5" width="6" height="25.3" fill="#dddddd"/>
<rect x="1794.5" y="610.9" width="6" height="18.7" fill="#dddddd"/>
<rect x="1794.5" y="633.6" width="6" height="25.3" fill="#dddddd"/>
<rect x="1794.5" y="684" width="6" height="25.3" fill="#dddddd"/>
<rect x="1794.5" y="734.4" width="6" height="25.3" fill="#dddddd"/>
<rect x="1794.5" y="784.8" width="6" height="25.3" fill="#dddddd"/>
<rect x="1794.5" y="835.2" width="6" height="18.7" fill="#dddddd"/>
<rect x="1794.5" y="857.9" width="6" height="25.3" fill="#dddddd"/>
<rect x="1794.5" y="908.3" width="6" height="25.3" fill="#dddddd"/>
<rect x="1794.5" y="958.7" width="6" height="25.3" fill="#dddddd"/>
<rect x="1794.5" y="1009.1" width="6" height="25.3" fill="#dddddd"/>
<rect x="1794.5" y="1059.5" width="6" height="18.7" fill="#dddddd"/>
<rect x="1794.5" y="1082.2" width="6" height="25.3" fill="#dddddd"/>
<rect x="1794.5" y="1132.6" width="6" height="25.3" fill="#dddddd"/>
<rect x="1794.5" y="1183" width="6" height="25.3" fill="#dddddd"/>
<rect x="1794.5" y="1233.4" width="6" height="25.3" fill="#dddddd"/>
<rect x="1794.5" y="1283.8" width="6" height="18.7" fill="#dddddd"/>
<rect x="1794.5" y="1306.5" width="6" height="25.3" fill="#dddddd"/>
<rect x="1794.5" y="1356.9" width="6" height="25.3" fill="#dddddd"/>
<rect x="1794.5" y="1407.3" width="6" height="25.3" fill="#dddddd"/>
<rect x="1794.5" y="1457.7" width="6" height="25.3" fill="#dddddd"/>
<rect x="1794.5" y="1508.1" width="6" height="18.7" fill="#dddddd"/>
<rect x="1794.5" y="1530.8" width="6" height="15.7" fill="#dddddd"/>
</g>
<g fill="#2fd5fc">
<rect x="314.93" y="1350.6" width="228.25" height="73.9" fill="#55d3f9" fill-opacity="0.5"/>
<rect x="424.6" y="1437.7" width="8.9" height="39.4" fill="#2fd5fc"/>
<rect x="424.6" y="1311.2" width="8.9" height="39.4" fill="#2fd5fc"/>
<rect x="424.6" y="1240.8" width="8.9" height="31" fill="#2fd5fc"/>
<rect x="372.05" y="1236.07" width="114" height="9.46" fill="#2fd5fc"/>
<rect x="372.05" y="1472.37" width="114" height="9.46" fill="#2fd5fc"/>
<path d="M314.93 1325.12 H543.17 V1256.37 H314.93 V1325.12" fill="none" stroke="#2fd5fc" stroke-width="8.8" stroke-linejoin="round" transform="scale(1 1.075)"/>
<rect x="314.93" y="1384.22" width="228.25" height="9.46" fill="#2fd5fc"/>
<rect x="424.5" y="1095.65" width="9.1" height="26.5" fill="#2fd5fc"/>
<rect x="416.65" y="1104.03" width="24.8" height="9.75" fill="#2fd5fc"/>
<rect x="424.5" y="1099.65" width="9.1" height="26.5" fill="#2fd5fc"/>
<rect x="416.65" y="1108.03" width="24.8" height="9.75" fill="#2fd5fc"/>
<rect x="424.5" y="1152.15" width="9.1" height="26.5" fill="#2fd5fc"/>
<rect x="416.65" y="1160.53" width="24.8" height="9.75" fill="#2fd5fc"/>
<rect x="424.5" y="1184.55" width="9.1" height="26.5" fill="#2fd5fc"/>
<rect x="416.65" y="1192.92" width="24.8" height="9.75" fill="#2fd5fc"/>
<rect x="424.5" y="1195.75" width="9.1" height="26.5" fill="#2fd5fc"/>
<rect x="416.65" y="1204.12" width="24.8" height="9.75" fill="#2fd5fc"/>
<rect x="424.5" y="1200.25" width="9.1" height="26.5" fill="#2fd5fc"/>
<rect x="416.65" y="1208.62" width="24.8" height="9.75" fill="#2fd5fc"/>
<rect x="424.5" y="1204.75" width="9.1" height="26.5" fill="#2fd5fc"/>
<rect x="416.65" y="1213.12" width="24.8" height="9.75" fill="#2fd5fc"/>
<rect x="424.5" y="1209.25" width="9.1" height="26.5" fill="#2fd5fc"/>
<rect x="416.65" y="1217.62" width="24.8" height="9.75" fill="#2fd5fc"/>
<rect x="424.5" y="1213.75" width="9.1" height="26.5" fill="#2fd5fc"/>
<rect x="416.65" y="1222.12" width="24.8" height="9.75" fill="#2fd5fc"/>
<rect x="424.5" y="1218.25" width="9.1" height="26.5" fill="#2fd5fc"/>
<rect x="416.65" y="1226.62" width="24.8" height="9.75" fill="#2fd5fc"/>
<rect x="424.5" y="1222.75" width="9.1" height="26.5" fill="#2fd5fc"/>
<rect x="416.65" y="1231.12" width="24.8" height="9.75" fill="#2fd5fc"/>
</g>
<g fill="#028fd1">
<rect x="770.98" y="1349.5" width="228.25" height="68.4" fill="#298dd1" fill-opacity="0.5"/>
<rect x="880.65" y="1421.9" width="8.9" height="39.4" fill="#028fd1"/>
<rect x="880.65" y="1310.1" width="8.9" height="39.4" fill="#028fd1"/>
<rect x="880.65" y="1253.2" width="8.9" height="17.5" fill="#028fd1"/>
<rect x="828.1" y="1248.47" width="114" height="9.46" fill="#028fd1"/>
<rect x="828.1" y="1456.57" width="114" height="9.46" fill="#028fd1"/>
<path d="M770.98 1318.98 H999.23 V1255.35 H770.98 V1318.98" fill="none" stroke="#028fd1" stroke-width="8.8" stroke-linejoin="round" transform="scale(1 1.075)"/>
<rect x="770.98" y="1383.97" width="228.25" height="9.46" fill="#028fd1"/>
<rect x="880.55" y="268.45" width="9.1" height="26.5" fill="#028fd1"/>
<rect x="872.7" y="276.82" width="24.8" height="9.75" fill="#028fd1"/>
<rect x="880.55" y="948.65" width="9.1" height="26.5" fill="#028fd1"/>
<rect x="872.7" y="957.02" width="24.8" height="9.75" fill="#028fd1"/>
<rect x="880.55" y="1000.55" width="9.1" height="26.5" fill="#028fd1"/>
<rect x="872.7" y="1008.92" width="24.8" height="9.75" fill="#028fd1"/>
<rect x="880.55" y="1096.55" width="9.1" height="26.5" fill="#028fd1"/>
<rect x="872.7" y="1104.92" width="24.8" height="9.75" fill="#028fd1"/>
<rect x="880.55" y="1107.35" width="9.1" height="26.5" fill="#028fd1"/>
<rect x="872.7" y="1115.72" width="24.8" height="9.75" fill="#028fd1"/>
<rect x="880.55" y="1138.75" width="9.1" height="26.5" fill="#028fd1"/>
<rect x="872.7" y="1147.12" width="24.8" height="9.75" fill="#028fd1"/>
<rect x="880.55" y="1172.75" width="9.1" height="26.5" fill="#028fd1"/>
<rect x="872.7" y="1181.12" width="24.8" height="9.75" fill="#028fd1"/>
<rect x="880.55" y="1185.15" width="9.1" height="26.5" fill="#028fd1"/>
<rect x="872.7" y="1193.53" width="24.8" height="9.75" fill="#028fd1"/>
<rect x="880.55" y="1197.35" width="9.1" height="26.5" fill="#028fd1"/>
<rect x="872.7" y="1205.72" width="24.8" height="9.75" fill="#028fd1"/>
<rect x="880.55" y="1209.05" width="9.1" height="26.5" fill="#028fd1"/>
<rect x="872.7" y="1217.42" width="24.8" height="9.75" fill="#028fd1"/>
<rect x="880.55" y="1222.25" width="9.1" height="26.5" fill="#028fd1"/>
<rect x="872.7" y="1230.62" width="24.8" height="9.75" fill="#028fd1"/>
<rect x="880.55" y="1234.25" width="9.1" height="26.5" fill="#028fd1"/>
<rect x="872.7" y="1242.62" width="24.8" height="9.75" fill="#028fd1"/>
</g>
<g fill="#ffd36e">
<rect x="1227.17" y="1245.65" width="228.25" height="133.2" fill="#ffd36e" fill-opacity="0.45"/>
<rect x="1336.85" y="1406.85" width="8.9" height="39.4" fill="#ffd36e"/>
<rect x="1336.85" y="1206.25" width="8.9" height="39.4" fill="#ffd36e"/>
<rect x="1336.85" y="1127.45" width="8.9" height="39.4" fill="#ffd36e"/>
<rect x="1336.85" y="1055.6" width="8.9" height="32.45" fill="#ffd36e"/>
<rect x="1284.3" y="1050.87" width="114" height="9.46" fill="#ffd36e"/>
<rect x="1284.3" y="1441.52" width="114" height="9.46" fill="#ffd36e"/>
<path d="M1227.17 1282.65 H1455.42 V1158.74 H1227.17 V1282.65" fill="none" stroke="#ffd36e" stroke-width="8.8" stroke-linejoin="round" transform="scale(1 1.075)"/>
<rect x="1227.17" y="1321.87" width="228.25" height="9.46" fill="#ffd36e"/>
<rect x="1336.75" y="262.35" width="9.1" height="26.5" fill="#ffd36e"/>
<rect x="1328.9" y="270.73" width="24.8" height="9.75" fill="#ffd36e"/>
<rect x="1336.75" y="413.75" width="9.1" height="26.5" fill="#ffd36e"/>
<rect x="1328.9" y="422.12" width="24.8" height="9.75" fill="#ffd36e"/>
<rect x="1336.75" y="454.65" width="9.1" height="26.5" fill="#ffd36e"/>
<rect x="1328.9" y="463.02" width="24.8" height="9.75" fill="#ffd36e"/>
<rect x="1336.75" y="541.75" width="9.1" height="26.5" fill="#ffd36e"/>
<rect x="1328.9" y="550.12" width="24.8" height="9.75" fill="#ffd36e"/>
<rect x="1336.75" y="571.25" width="9.1" height="26.5" fill="#ffd36e"/>
<rect x="1328.9" y="579.62" width="24.8" height="9.75" fill="#ffd36e"/>
<rect x="1336.75" y="640.65" width="9.1" height="26.5" fill="#ffd36e"/>
<rect x="1328.9" y="649.02" width="24.8" height="9.75" fill="#ffd36e"/>
<rect x="1336.75" y="778.05" width="9.1" height="26.5" fill="#ffd36e"/>
<rect x="1328.9" y="786.42" width="24.8" height="9.75" fill="#ffd36e"/>
<rect x="1336.75" y="792.95" width="9.1" height="26.5" fill="#ffd36e"/>
<rect x="1328.9" y="801.33" width="24.8" height="9.75" fill="#ffd36e"/>
<rect x="1336.75" y="815.55" width="9.1" height="26.5" fill="#ffd36e"/>
<rect x="1328.9" y="823.92" width="24.8" height="9.75" fill="#ffd36e"/>
<rect x="1336.75" y="826.45" width="9.1" height="26.5" fill="#ffd36e"/>
<rect x="1328.9" y="834.83" width="24.8" height="9.75" fill="#ffd36e"/>
<rect x="1336.75" y="848.95" width="9.1" height="26.5" fill="#ffd36e"/>
<rect x="1328.9" y="857.33" width="24.8" height="9.75" fill="#ffd36e"/>
<rect x="1336.75" y="851.75" width="9.1" height="26.5" fill="#ffd36e"/>
<rect x="1328.9" y="860.12" width="24.8" height="9.75" fill="#ffd36e"/>
<rect x="1336.75" y="866.95" width="9.1" height="26.5" fill="#ffd36e"/>
<rect x="1328.9" y="875.33" width="24.8" height="9.75" fill="#ffd36e"/>
<rect x="1336.75" y="883.75" width="9.1" height="26.5" fill="#ffd36e"/>
<rect x="1328.9" y="892.12" width="24.8" height="9.75" fill="#ffd36e"/>
<rect x="1336.75" y="929.45" width="9.1" height="26.5" fill="#ffd36e"/>
<rect x="1328.9" y="937.83" width="24.8" height="9.75" fill="#ffd36e"/>
<rect x="1336.75" y="954.45" width="9.1" height="26.5" fill="#ffd36e"/>
<rect x="1328.9" y="962.83" width="24.8" height="9.75" fill="#ffd36e"/>
<rect x="1336.75" y="960.85" width="9.1" height="26.5" fill="#ffd36e"/>
<rect x="1328.9" y="969.23" width="24.8" height="9.75" fill="#ffd36e"/>
<rect x="1336.75" y="975.95" width="9.1" height="26.5" fill="#ffd36e"/>
<rect x="1328.9" y="984.33" width="24.8" height="9.75" fill="#ffd36e"/>
<rect x="1336.75" y="982.55" width="9.1" height="26.5" fill="#ffd36e"/>
<rect x="1328.9" y="990.92" width="24.8" height="9.75" fill="#ffd36e"/>
<rect x="1336.75" y="1024.25" width="9.1" height="26.5" fill="#ffd36e"/>
<rect x="1328.9" y="1032.62" width="24.8" height="9.75" fill="#ffd36e"/>
<rect x="1336.75" y="1030.95" width="9.1" height="26.5" fill="#ffd36e"/>
<rect x="1328.9" y="1039.33" width="24.8" height="9.75" fill="#ffd36e"/>
</g>
<g fill="#7b7b7b">
<rect x="1683.38" y="1199.05" width="228.25" height="171.05" fill="#7b7b7b" fill-opacity="0.5"/>
<rect x="1793.05" y="1403.15" width="8.9" height="39.4" fill="#7b7b7b"/>
<rect x="1793.05" y="1159.65" width="8.9" height="39.4" fill="#7b7b7b"/>
<rect x="1793.05" y="1080.85" width="8.9" height="39.4" fill="#7b7b7b"/>
<rect x="1793.05" y="1002.05" width="8.9" height="39.4" fill="#7b7b7b"/>
<rect x="1793.05" y="958.2" width="8.9" height="4.45" fill="#7b7b7b"/>
<rect x="1740.5" y="953.47" width="114" height="9.46" fill="#7b7b7b"/>
<rect x="1740.5" y="1437.82" width="114" height="9.46" fill="#7b7b7b"/>
<path d="M1683.38 1274.51 H1911.62 V1115.4 H1683.38 V1274.51" fill="none" stroke="#7b7b7b" stroke-width="8.8" stroke-linejoin="round" transform="scale(1 1.075)"/>
<rect x="1683.38" y="1314.72" width="228.25" height="9.46" fill="#7b7b7b"/>
<rect x="1792.95" y="79.15" width="9.1" height="26.5" fill="#7b7b7b"/>
<rect x="1785.1" y="87.53" width="24.8" height="9.75" fill="#7b7b7b"/>
<rect x="1792.95" y="83.35" width="9.1" height="26.5" fill="#7b7b7b"/>
<rect x="1785.1" y="91.72" width="24.8" height="9.75" fill="#7b7b7b"/>
<rect x="1792.95" y="87.55" width="9.1" height="26.5" fill="#7b7b7b"/>
<rect x="1785.1" y="95.92" width="24.8" height="9.75" fill="#7b7b7b"/>
<rect x="1792.95" y="192.75" width="9.1" height="26.5" fill="#7b7b7b"/>
<rect x="1785.1" y="201.12" width="24.8" height="9.75" fill="#7b7b7b"/>
<rect x="1792.95" y="296.65" width="9.1" height="26.5" fill="#7b7b7b"/>
<rect x="1785.1" y="305.02" width="24.8" height="9.75" fill="#7b7b7b"/>
<rect x="1792.95" y="458.95" width="9.1" height="26.5" fill="#7b7b7b"/>
<rect x="1785.1" y="467.32" width="24.8" height="9.75" fill="#7b7b7b"/>
<rect x="1792.95" y="699.65" width="9.1" height="26.5" fill="#7b7b7b"/>
<rect x="1785.1" y="708.02" width="24.8" height="9.75" fill="#7b7b7b"/>
<rect x="1792.95" y="706.55" width="9.1" height="26.5" fill="#7b7b7b"/>
<rect x="1785.1" y="714.92" width="24.8" height="9.75" fill="#7b7b7b"/>
<rect x="1792.95" y="736.85" width="9.1" height="26.5" fill="#7b7b7b"/>
<rect x="1785.1" y="745.23" width="24.8" height="9.75" fill="#7b7b7b"/>
<rect x="1792.95" y="742.65" width="9.1" height="26.5" fill="#7b7b7b"/>
<rect x="1785.1" y="751.02" width="24.8" height="9.75" fill="#7b7b7b"/>
<rect x="1792.95" y="763" width="9.1" height="26.5" fill="#7b7b7b"/>
<rect x="1785.1" y="771.38" width="24.8" height="9.75" fill="#7b7b7b"/>
<rect x="1792.95" y="836.95" width="9.1" height="26.5" fill="#7b7b7b"/>
<rect x="1785.1" y="845.33" width="24.8" height="9.75" fill="#7b7b7b"/>
<rect x="1792.95" y="841.75" width="9.1" height="26.5" fill="#7b7b7b"/>
<rect x="1785.1" y="850.12" width="24.8" height="9.75" fill="#7b7b7b"/>
<rect x="1792.95" y="846.75" width="9.1" height="26.5" fill="#7b7b7b"/>
<rect x="1785.1" y="855.12" width="24.8" height="9.75" fill="#7b7b7b"/>
<rect x="1792.95" y="851.85" width="9.1" height="26.5" fill="#7b7b7b"/>
<rect x="1785.1" y="860.23" width="24.8" height="9.75" fill="#7b7b7b"/>
<rect x="1792.95" y="889.55" width="9.1" height="26.5" fill="#7b7b7b"/>
<rect x="1785.1" y="897.92" width="24.8" height="9.75" fill="#7b7b7b"/>
<rect x="1792.95" y="912.75" width="9.1" height="26.5" fill="#7b7b7b"/>
<rect x="1785.1" y="921.12" width="24.8" height="9.75" fill="#7b7b7b"/>
</g>
<g fill="#202020">
<rect x="201.1" y="1520.08" width="20.8" height="6.25" fill="#202020"/>
<rect x="2004.3" y="1520.08" width="20.8" height="6.25" fill="#202020"/>
<rect x="201.1" y="1484.4" width="11.7" height="6.25" fill="#202020"/>
<rect x="2013.4" y="1484.4" width="11.7" height="6.25" fill="#202020"/>
<rect x="201.1" y="1448.74" width="11.7" height="6.25" fill="#202020"/>
<rect x="2013.4" y="1448.74" width="11.7" height="6.25" fill="#202020"/>
<rect x="201.1" y="1413.07" width="11.7" height="6.25" fill="#202020"/>
<rect x="2013.4" y="1413.07" width="11.7" height="6.25" fill="#202020"/>
<rect x="201.1" y="1377.39" width="11.7" height="6.25" fill="#202020"/>
<rect x="2013.4" y="1377.39" width="11.7" height="6.25" fill="#202020"/>
<rect x="201.1" y="1341.72" width="20.8" height="6.25" fill="#202020"/>
<rect x="2004.3" y="1341.72" width="20.8" height="6.25" fill="#202020"/>
<rect x="201.1" y="1306.06" width="11.7" height="6.25" fill="#202020"/>
<rect x="2013.4" y="1306.06" width="11.7" height="6.25" fill="#202020"/>
<rect x="201.1" y="1270.38" width="11.7" height="6.25" fill="#202020"/>
<rect x="2013.4" y="1270.38" width="11.7" height="6.25" fill="#202020"/>
<rect x="201.1" y="1234.72" width="11.7" height="6.25" fill="#202020"/>
<rect x="2013.4" y="1234.72" width="11.7" height="6.25" fill="#202020"/>
<rect x="201.1" y="1199.05" width="11.7" height="6.25" fill="#202020"/>
<rect x="2013.4" y="1199.05" width="11.7" height="6.25" fill="#202020"/>
<rect x="201.1" y="1163.38" width="20.8" height="6.25" fill="#202020"/>
<rect x="2004.3" y="1163.38" width="20.8" height="6.25" fill="#202020"/>
<rect x="201.1" y="1127.7" width="11.7" height="6.25" fill="#202020"/>
<rect x="2013.4" y="1127.7" width="11.7" height="6.25" fill="#202020"/>
<rect x="201.1" y="1092.04" width="11.7" height="6.25" fill="#202020"/>
<rect x="2013.4" y="1092.04" width="11.7" height="6.25" fill="#202020"/>
<rect x="201.1" y="1056.37" width="11.7" height="6.25" fill="#202020"/>
<rect x="2013.4" y="1056.37" width="11.7" height="6.25" fill="#202020"/>
<rect x="201.1" y="1020.7" width="11.7" height="6.25" fill="#202020"/>
<rect x="2013.4" y="1020.7" width="11.7" height="6.25" fill="#202020"/>
<rect x="201.1" y="985.02" width="20.8" height="6.25" fill="#202020"/>
<rect x="2004.3" y="985.02" width="20.8" height="6.25" fill="#202020"/>
<rect x="201.1" y="949.36" width="11.7" height="6.25" fill="#202020"/>
<rect x="2013.4" y="949.36" width="11.7" height="6.25" fill="#202020"/>
<rect x="201.1" y="913.69" width="11.7" height="6.25" fill="#202020"/>
<rect x="2013.4" y="913.69" width="11.7" height="6.25" fill="#202020"/>
<rect x="201.1" y="878.01" width="11.7" height="6.25" fill="#202020"/>
<rect x="2013.4" y="878.01" width="11.7" height="6.25" fill="#202020"/>
<rect x="201.1" y="842.35" width="11.7" height="6.25" fill="#202020"/>
<rect x="2013.4" y="842.35" width="11.7" height="6.25" fill="#202020"/>
<rect x="201.1" y="806.67" width="20.8" height="6.25" fill="#202020"/>
<rect x="2004.3" y="806.67" width="20.8" height="6.25" fill="#202020"/>
<rect x="201.1" y="771" width="11.7" height="6.25" fill="#202020"/>
<rect x="2013.4" y="771" width="11.7" height="6.25" fill="#202020"/>
<rect x="201.1" y="735.34" width="11.7" height="6.25" fill="#202020"/>
<rect x="2013.4" y="735.34" width="11.7" height="6.25" fill="#202020"/>
<rect x="201.1" y="699.66" width="11.7" height="6.25" fill="#202020"/>
<rect x="2013.4" y="699.66" width="11.7" height="6.25" fill="#202020"/>
<rect x="201.1" y="664" width="11.7" height="6.25" fill="#202020"/>
<rect x="2013.4" y="664" width="11.7" height="6.25" fill="#202020"/>
<rect x="201.1" y="628.33" width="20.8" height="6.25" fill="#202020"/>
<rect x="2004.3" y="628.33" width="20.8" height="6.25" fill="#202020"/>
<rect x="201.1" y="592.65" width="11.7" height="6.25" fill="#202020"/>
<rect x="2013.4" y="592.65" width="11.7" height="6.25" fill="#202020"/>
<rect x="201.1" y="556.99" width="11.7" height="6.25" fill="#202020"/>
<rect x="2013.4" y="556.99" width="11.7" height="6.25" fill="#202020"/>
<rect x="201.1" y="521.32" width="11.7" height="6.25" fill="#202020"/>
<rect x="2013.4" y="521.32" width="11.7" height="6.25" fill="#202020"/>
<rect x="201.1" y="485.64" width="11.7" height="6.25" fill="#202020"/>
<rect x="2013.4" y="485.64" width="11.7" height="6.25" fill="#202020"/>
<rect x="201.1" y="449.97" width="20.8" height="6.25" fill="#202020"/>
<rect x="2004.3" y="449.97" width="20.8" height="6.25" fill="#202020"/>
<rect x="201.1" y="414.31" width="11.7" height="6.25" fill="#202020"/>
<rect x="2013.4" y="414.31" width="11.7" height="6.25" fill="#202020"/>
<rect x="201.1" y="378.63" width="11.7" height="6.25" fill="#202020"/>
<rect x="2013.4" y="378.63" width="11.7" height="6.25" fill="#202020"/>
<rect x="201.1" y="342.96" width="11.7" height="6.25" fill="#202020"/>
<rect x="2013.4" y="342.96" width="11.7" height="6.25" fill="#202020"/>
<rect x="201.1" y="307.3" width="11.7" height="6.25" fill="#202020"/>
<rect x="2013.4" y="307.3" width="11.7" height="6.25" fill="#202020"/>
<rect x="201.1" y="271.62" width="20.8" height="6.25" fill="#202020"/>
<rect x="2004.3" y="271.62" width="20.8" height="6.25" fill="#202020"/>
<rect x="201.1" y="235.95" width="11.7" height="6.25" fill="#202020"/>
<rect x="2013.4" y="235.95" width="11.7" height="6.25" fill="#202020"/>
<rect x="201.1" y="200.29" width="11.7" height="6.25" fill="#202020"/>
<rect x="2013.4" y="200.29" width="11.7" height="6.25" fill="#202020"/>
<rect x="201.1" y="164.62" width="11.7" height="6.25" fill="#202020"/>
<rect x="2013.4" y="164.62" width="11.7" height="6.25" fill="#202020"/>
<rect x="201.1" y="128.94" width="11.7" height="6.25" fill="#202020"/>
<rect x="2013.4" y="128.94" width="11.7" height="6.25" fill="#202020"/>
<rect x="201.1" y="93.27" width="20.8" height="6.25" fill="#202020"/>
<rect x="2004.3" y="93.27" width="20.8" height="6.25" fill="#202020"/>
<rect x="201.1" y="57.61" width="11.7" height="6.25" fill="#202020"/>
<rect x="2013.4" y="57.61" width="11.7" height="6.25" fill="#202020"/>
<rect x="201.1" y="21.93" width="11.7" height="6.25" fill="#202020"/>
<rect x="2013.4" y="21.93" width="11.7" height="6.25" fill="#202020"/>
<rect x="243.64" y="22" width="5.9" height="12.6" fill="#202020"/>
<rect x="243.64" y="1533.9" width="5.9" height="12.6" fill="#202020"/>
<rect x="334.87" y="22" width="5.9" height="12.6" fill="#202020"/>
<rect x="334.87" y="1533.9" width="5.9" height="12.6" fill="#202020"/>
<rect x="426.1" y="22" width="5.9" height="22.9" fill="#202020"/>
<rect x="426.1" y="1524.2" width="5.9" height="22.3" fill="#202020"/>
<rect x="517.33" y="22" width="5.9" height="12.6" fill="#202020"/>
<rect x="517.33" y="1533.9" width="5.9" height="12.6" fill="#202020"/>
<rect x="608.56" y="22" width="5.9" height="12.6" fill="#202020"/>
<rect x="608.56" y="1533.9" width="5.9" height="12.6" fill="#202020"/>
<rect x="699.79" y="22" width="5.9" height="12.6" fill="#202020"/>
<rect x="699.79" y="1533.9" width="5.9" height="12.6" fill="#202020"/>
<rect x="791.02" y="22" width="5.9" height="12.6" fill="#202020"/>
<rect x="791.02" y="1533.9" width="5.9" height="12.6" fill="#202020"/>
<rect x="882.25" y="22" width="5.9" height="22.9" fill="#202020"/>
<rect x="882.25" y="1524.2" width="5.9" height="22.3" fill="#202020"/>
<rect x="973.48" y="22" width="5.9" height="12.6" fill="#202020"/>
<rect x="973.48" y="1533.9" width="5.9" height="12.6" fill="#202020"/>
<rect x="1064.71" y="22" width="5.9" height="12.6" fill="#202020"/>
<rect x="1064.71" y="1533.9" width="5.9" height="12.6" fill="#202020"/>
<rect x="1155.94" y="22" width="5.9" height="12.6" fill="#202020"/>
<rect x="1155.94" y="1533.9" width="5.9" height="12.6" fill="#202020"/>
<rect x="1247.17" y="22" width="5.9" height="12.6" fill="#202020"/>
<rect x="1247.17" y="1533.9" width="5.9" height="12.6" fill="#202020"/>
<rect x="1338.4" y="22" width="5.9" height="22.9" fill="#202020"/>
<rect x="1338.4" y="1524.2" width="5.9" height="22.3" fill="#202020"/>
<rect x="1429.63" y="22" width="5.9" height="12.6" fill="#202020"/>
<rect x="1429.63" y="1533.9" width="5.9" height="12.6" fill="#202020"/>
<rect x="1520.86" y="22" width="5.9" height="12.6" fill="#202020"/>
<rect x="1520.86" y="1533.9" width="5.9" height="12.6" fill="#202020"/>
<rect x="1612.09" y="22" width="5.9" height="12.6" fill="#202020"/>
<rect x="1612.09" y="1533.9" width="5.9" height="12.6" fill="#202020"/>
<rect x="1703.32" y="22" width="5.9" height="12.6" fill="#202020"/>
<rect x="1703.32" y="1533.9" width="5.9" height="12.6" fill="#202020"/>
<rect x="1794.55" y="22" width="5.9" height="22.9" fill="#202020"/>
<rect x="1794.55" y="1524.2" width="5.9" height="22.3" fill="#202020"/>
<rect x="1885.78" y="22" width="5.9" height="12.6" fill="#202020"/>
<rect x="1885.78" y="1533.9" width="5.9" height="12.6" fill="#202020"/>
<rect x="1977.01" y="22" width="5.9" height="12.6" fill="#202020"/>
<rect x="1977.01" y="1533.9" width="5.9" height="12.6" fill="#202020"/>
<rect x="198.17" y="18.86" width="5.85" height="1530.79" fill="#202020"/>
<rect x="2022.17" y="18.86" width="5.85" height="1530.79" fill="#202020"/>
<rect x="198.17" y="18.86" width="1829.85" height="6.29" fill="#202020"/>
<rect x="198.17" y="1543.36" width="1829.85" height="6.29" fill="#202020"/>
</g>
<g fill="#202020" font-family="'Liberation Serif', 'Times New Roman', Times, serif" font-weight="bold">
<text transform="translate(180 1548.2) scale(1.01 1.08)" text-anchor="end" font-size="66.7">0</text>
<text transform="translate(180 1369.85) scale(1.01 1.08)" text-anchor="end" font-size="66.7">50</text>
<text transform="translate(180 1191.5) scale(1.01 1.08)" text-anchor="end" font-size="66.7">100</text>
<text transform="translate(180 1013.15) scale(1.01 1.08)" text-anchor="end" font-size="66.7">150</text>
<text transform="translate(180 834.8) scale(1.01 1.08)" text-anchor="end" font-size="66.7">200</text>
<text transform="translate(180 656.45) scale(1.01 1.08)" text-anchor="end" font-size="66.7">250</text>
<text transform="translate(180 478.1) scale(1.01 1.08)" text-anchor="end" font-size="66.7">300</text>
<text transform="translate(180 299.75) scale(1.01 1.08)" text-anchor="end" font-size="66.7">350</text>
<text transform="translate(180 121.4) scale(1.01 1.08)" text-anchor="end" font-size="66.7">400</text>
<text transform="translate(428.65 1634.2) scale(1.01 1.09)" text-anchor="middle" font-size="66.7">C20</text>
<text transform="translate(884.7 1634.2) scale(1.01 1.09)" text-anchor="middle" font-size="66.7">C21</text>
<text transform="translate(1340.9 1634.2) scale(1.01 1.09)" text-anchor="middle" font-size="66.7">C29</text>
<text transform="translate(1797.1 1634.2) scale(1.01 1.09)" text-anchor="middle" font-size="66.7">C30</text>
<text transform="translate(1113.3 1716.8) scale(0.99 1.07)" text-anchor="middle" font-size="66.7">PRN</text>
<text transform="translate(54.2 785.5) scale(1 1.07) rotate(-90) scale(0.99 1)" text-anchor="middle" font-size="66.7">3D-RMS/cm</text>
</g>
</svg>
</body>
</html>
